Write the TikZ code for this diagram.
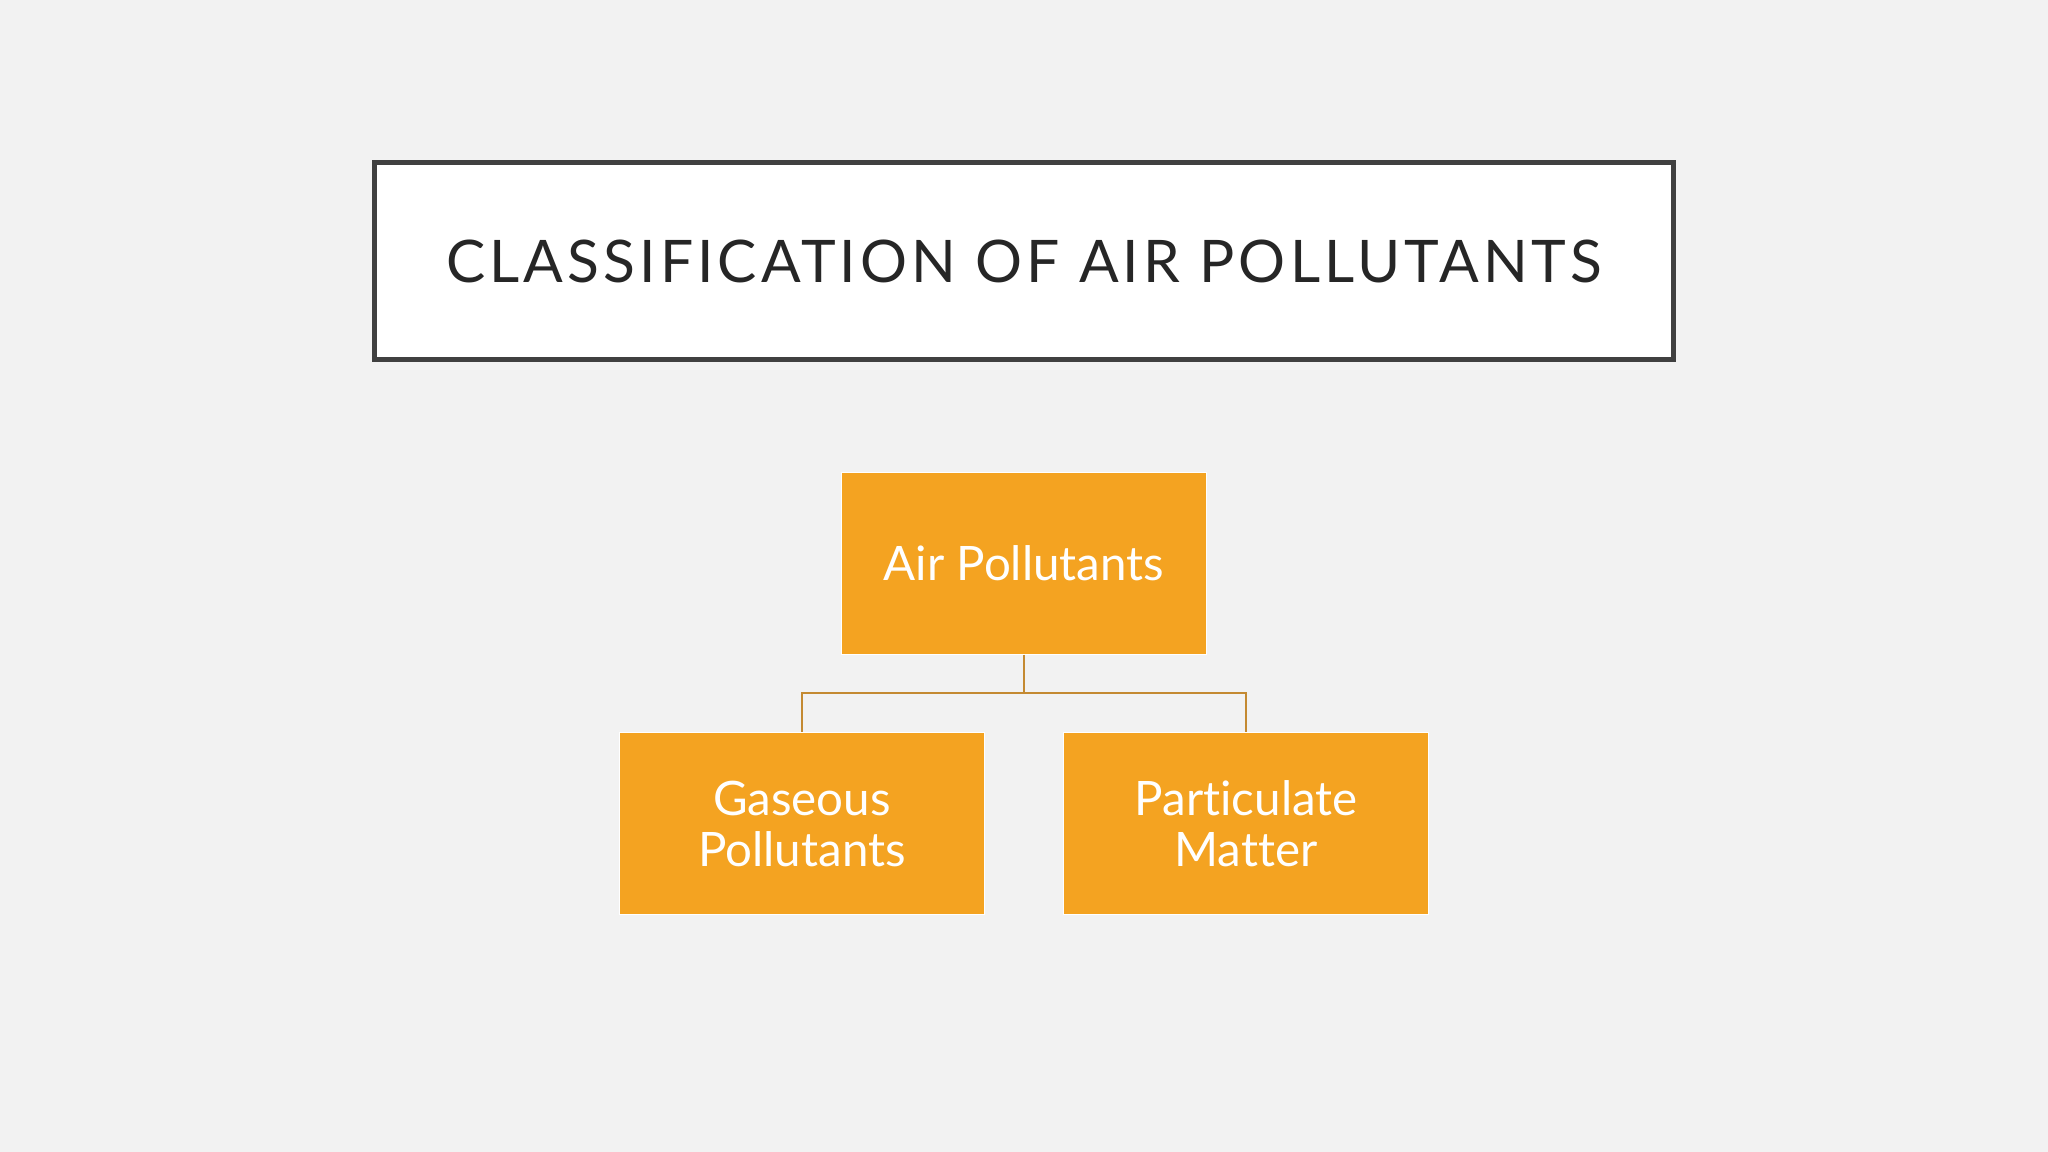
\documentclass[tikz,border=0pt]{standalone}
\usepackage{fontspec}
\setmainfont{Lato}[Ligatures=NoCommon]
\newfontfamily\titlefont[LetterSpace=7,Ligatures=NoCommon]{Lato}
\definecolor{slidebg}{HTML}{F2F2F2}
\definecolor{boxorange}{HTML}{F4A321}
\definecolor{linkbrown}{HTML}{C48A32}
\definecolor{framegray}{HTML}{404040}
\definecolor{titleink}{HTML}{262626}

\begin{document}
\begin{tikzpicture}[x=0.01cm,y=-0.01cm,
    pbox/.style={draw=white,line width=.3pt,fill=boxorange,text=white,minimum width=3.64cm,minimum height=1.81cm,align=center,inner sep=0pt,font=\fontsize{13.5}{14.5}\selectfont},
    link/.style={draw=linkbrown,line width=.6pt}]
            \fill[slidebg] (0,0) rectangle (2048,1152);

            \node[draw=framegray,line width=1.42pt,fill=white,minimum width=12.99cm,minimum height=1.97cm,inner sep=0pt,text=titleink,font=\titlefont\fontsize{16.7}{18}\selectfont] (title) at (1024,261) {CLASSIFICATION OF AIR POLLUTANTS};

            \node[pbox] (air) at (1024,563.5) {Air Pollutants};
            \node[pbox] (gas) at (802,823.5) {Gaseous\\Pollutants};
            \node[pbox] (pm) at (1246,823.5) {Particulate\\Matter};

            \coordinate (fork) at (1024,693);
            \draw[link] (air.south) -- (fork);
            \foreach \child in {gas, pm} {
                \draw[link] (fork) -| (\child.north);
            }
        \end{tikzpicture}
\end{document}
